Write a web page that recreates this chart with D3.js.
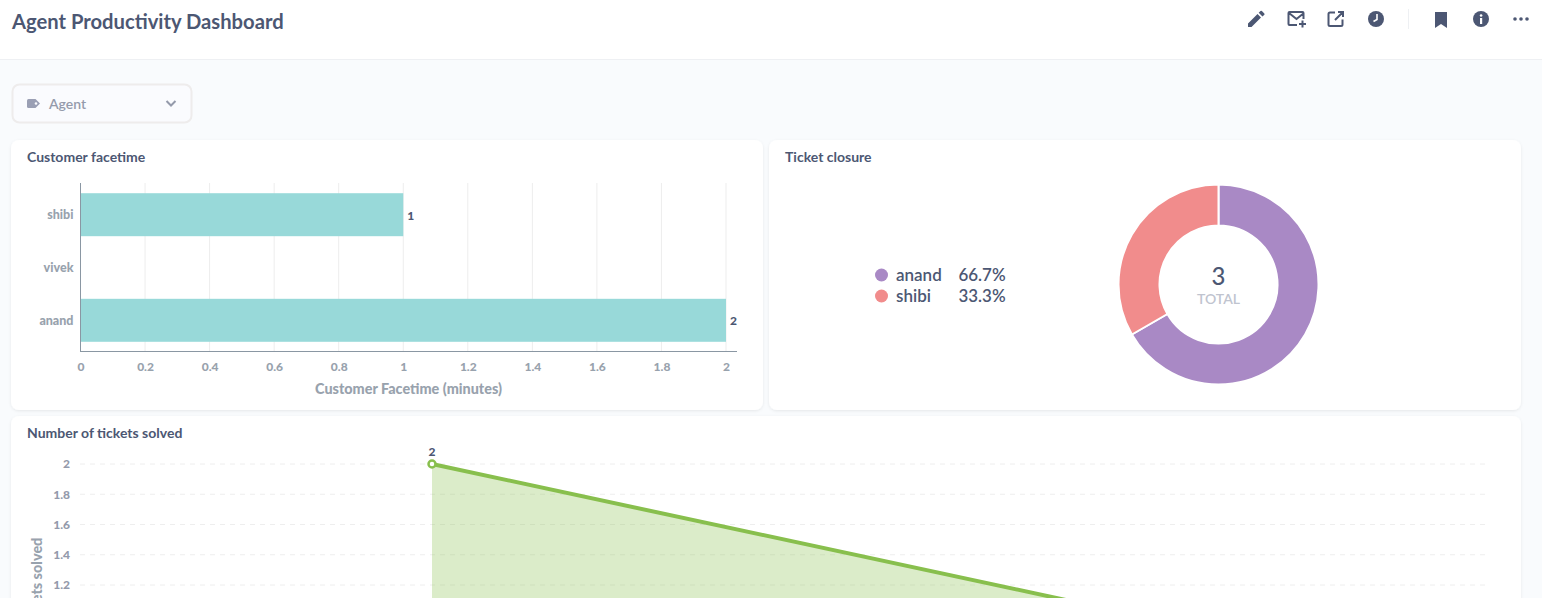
<!DOCTYPE html>
<html><head><meta charset="utf-8">
<script src="https://cdn.jsdelivr.net/npm/d3@7/dist/d3.min.js"></script>
<style>
html,body{margin:0;padding:0;background:#f9fbfd;overflow:hidden;width:1542px;height:598px}
svg{display:block;font-family:Lato,sans-serif}
</style></head><body><svg id="c" width="1542" height="598"></svg>
<script>
const title = "Agent Productivity Dashboard";
const filterLabel = "Agent";
const barAgents = ["shibi","vivek","anand"];
const barValues = [1,null,2];
const barTicks = [0,0.2,0.4,0.6,0.8,1,1.2,1.4,1.6,1.8,2];
const pieAgents = ["anand","shibi"];
const pieValues = [2,1];
const pieColors = ["#a989c5","#f18c8c"];
const lineCategories = ["first","second"];
const lineValues = [2,1];
const lineTicks = [1.2,1.4,1.6,1.8,2];

const svg = d3.select("#c");
const fmt = d3.format("");
const dark="#4c5773", axisTxt="#949aab", tickTxt="#98a2ad";

// top header
svg.append("rect").attr("x",0).attr("y",0).attr("width",1542).attr("height",59).attr("fill","#fff");
svg.append("line").attr("x1",0).attr("x2",1542).attr("y1",59.5).attr("y2",59.5).attr("stroke","#eef0f3");
svg.append("text").attr("x",12).attr("y",29).attr("font-size",20.2).attr("font-weight",700).attr("fill",dark).text(title);

const icons = svg.append("g").attr("fill",dark);
// pencil
icons.append("path").attr("d","M1248 27v-3.500l9.500-9.500 3.500 3.500-9.500 9.500zM1258.700 12.800l1.800-1.800a1 1 0 0 1 1.400 0l2.400 2.400a1 1 0 0 1 0 1.400l-1.800 1.800z");
// mail plus
icons.append("path").attr("fill","none").attr("stroke",dark).attr("stroke-width",2).attr("d","M1297 25h-7.500a1 1 0 0 1-1-1v-11a1 1 0 0 1 1-1h13a1 1 0 0 1 1 1v6M1289 13l7.500 6 7.500-6M1299 24h7M1302.500 20.500v7");
// external
icons.append("path").attr("fill","none").attr("stroke",dark).attr("stroke-width",2).attr("d","M1335 12.500h-5a1.500 1.500 0 0 0-1.500 1.500v10.500a1.500 1.500 0 0 0 1.500 1.500h11a1.500 1.500 0 0 0 1.500-1.500v-5M1335 20l7-7M1338 12h5v5");
// clock
icons.append("circle").attr("cx",1376).attr("cy",19).attr("r",8);
icons.append("path").attr("fill","none").attr("stroke","#fff").attr("stroke-width",1.6).attr("d","M1377 14v5.500l-3.500 2");
svg.append("line").attr("x1",1408.500).attr("x2",1408.500).attr("y1",9).attr("y2",29).attr("stroke","#eef0f3");
// bookmark
icons.append("path").attr("d","M1435 12h12v16l-6-4-6 4z");
// info
icons.append("circle").attr("cx",1481).attr("cy",19).attr("r",8);
icons.append("rect").attr("x",1480).attr("y",18).attr("width",2.200).attr("height",6).attr("fill","#fff");
icons.append("circle").attr("cx",1481.100).attr("cy",15.500).attr("r",1.300).attr("fill","#fff");
// dots
[1515,1521,1527].forEach(x=>icons.append("circle").attr("cx",x).attr("cy",19).attr("r",1.800));

// filter
svg.append("rect").attr("x",12.500).attr("y",84.500).attr("width",179).attr("height",38).attr("rx",7).attr("fill","#fafbfe").attr("stroke","#eeecec").attr("stroke-width",2);
svg.append("path").attr("d","M27 100.500a1.500 1.500 0 0 1 1.500-1.500h7l4.500 4.500-4.500 4.500h-7a1.500 1.500 0 0 1-1.500-1.500z").attr("fill","#9a9fb4");
svg.append("circle").attr("cx",36).attr("cy",103.500).attr("r",1.300).attr("fill","#fafbfe");
svg.append("text").attr("x",49).attr("y",109).attr("font-size",14).attr("font-weight",600).attr("fill","#949aab").text(filterLabel);
svg.append("path").attr("d","M166.500 101l4.500 4.500 4.500-4.500").attr("fill","none").attr("stroke","#949aab").attr("stroke-width",2);

// cards
const cards=[[11,140,752,270],[769,140,752,270],[11,416,1510,260]];
const defs=svg.append("defs");
const f=defs.append("filter").attr("id","sh").attr("x","-5%").attr("y","-5%").attr("width","110%").attr("height","110%");
f.append("feDropShadow").attr("dx",0).attr("dy",1).attr("stdDeviation",1.500).attr("flood-color","#000").attr("flood-opacity",0.08);
cards.forEach(c=>svg.append("rect").attr("x",c[0]).attr("y",c[1]).attr("width",c[2]).attr("height",c[3]).attr("rx",8).attr("fill","#fff").attr("filter","url(#sh)"));
[["Customer facetime",27,162],["Ticket closure",785,162],["Number of tickets solved",27,438]].forEach(t=>
 svg.append("text").attr("x",t[1]).attr("y",t[2]).attr("font-size",14).attr("font-weight",700).attr("fill",dark).text(t[0]));

// bar chart
const bx=d3.scaleLinear().domain([0,2]).range([80.500,726]);
const by=d3.scaleBand().domain(barAgents).range([188.300,346.700]).paddingInner(0.186).paddingOuter(0.093);
const gb=svg.append("g");
gb.selectAll(".g").data(barTicks.slice(1)).join("line").attr("x1",d=>bx(d)).attr("x2",d=>bx(d)).attr("y1",183).attr("y2",351).attr("stroke","#ededed");
gb.selectAll(".bar").data(barAgents.map((a,i)=>({a,v:barValues[i]})).filter(d=>d.v!=null)).join("rect")
 .attr("x",bx(0)).attr("y",d=>by(d.a)).attr("width",d=>bx(d.v)-bx(0)).attr("height",by.bandwidth()).attr("fill","#98d9d9");
gb.selectAll(".lab").data(barAgents.map((a,i)=>({a,v:barValues[i]})).filter(d=>d.v!=null)).join("text")
 .attr("x",d=>bx(d.v)+4).attr("y",d=>by(d.a)+by.bandwidth()/2+5).attr("font-size",12).attr("font-weight",900).attr("fill",dark).text(d=>d.v);
const xAx=d3.axisBottom(bx).tickValues(barTicks).tickSize(0).tickPadding(11).tickFormat(fmt);
const gx=gb.append("g").attr("transform","translate(0,351.500)").call(xAx);
gx.select(".domain").remove();
gx.selectAll("text").attr("font-family","Lato").attr("font-size",12).attr("font-weight",900).attr("fill",tickTxt);
gb.append("line").attr("x1",80).attr("x2",737).attr("y1",351.500).attr("y2",351.500).attr("stroke","#8a97a3");
const yAx=d3.axisLeft(by).tickSize(0).tickPadding(7);
const gy=gb.append("g").attr("transform","translate(80.500,0.500)").call(yAx);
gy.select(".domain").remove();
gy.selectAll("text").attr("font-family","Lato").attr("font-size",12.500).attr("font-weight",900).attr("fill",tickTxt);
gb.append("line").attr("x1",80.500).attr("x2",80.500).attr("y1",183).attr("y2",351.500).attr("stroke","#8a97a3");
gb.append("text").attr("x",408.500).attr("y",394).attr("text-anchor","middle").attr("font-size",14.400).attr("font-weight",900).attr("fill",tickTxt).text("Customer Facetime (minutes)");

// pie
const total=d3.sum(pieValues);
const pie=d3.pie().sort(null).value(d=>d);
const arc=d3.arc().innerRadius(59).outerRadius(100);
const gp=svg.append("g").attr("transform","translate(1218.500,284.500)");
gp.selectAll("path").data(pie(pieValues)).join("path").attr("d",arc)
 .attr("fill",(d,i)=>pieColors[i]).attr("stroke","#fff").attr("stroke-width",2);
gp.append("text").attr("text-anchor","middle").attr("y",0).attr("font-size",24).attr("font-weight",500).attr("fill",dark).text(total);
gp.append("text").attr("text-anchor","middle").attr("y",19).attr("font-size",14).attr("font-weight",600).attr("fill","#c0c4cf").text("TOTAL");
const gl=svg.append("g");
pieAgents.forEach((a,i)=>{
 const y=275+i*21;
 gl.append("circle").attr("cx",881.500).attr("cy",y).attr("r",6.500).attr("fill",pieColors[i]);
 gl.append("text").attr("x",896).attr("y",y+6).attr("font-size",17).attr("font-weight",600).attr("fill",dark).text(a);
 gl.append("text").attr("x",958.500).attr("y",y+6).attr("font-size",16.900).attr("font-weight",600).attr("fill",dark).text(d3.format(".1%")(pieValues[i]/total));
});

// line chart
const lx=d3.scalePoint().domain(lineCategories).range([432,1137]);
const ly=d3.scaleLinear().domain([0,2]).range([766.500,464]);
const gL=svg.append("g");
gL.selectAll(".gl").data(lineTicks).join("line").attr("x1",80).attr("x2",1490).attr("y1",d=>ly(d)).attr("y2",d=>ly(d)).attr("stroke","#eeeeee").attr("stroke-dasharray","5,5");
const pts=lineCategories.map((c,i)=>[c,lineValues[i]]);
gL.append("path").attr("d",d3.area().x(d=>lx(d[0])).y0(ly(0)).y1(d=>ly(d[1]))(pts)).attr("fill","#88bf4d").attr("fill-opacity",0.3);
gL.append("path").attr("d",d3.line().x(d=>lx(d[0])).y(d=>ly(d[1]))(pts)).attr("fill","none").attr("stroke","#88bf4d").attr("stroke-width",4);
gL.selectAll(".pt").data(pts).join("circle").attr("cx",d=>lx(d[0])).attr("cy",d=>ly(d[1])).attr("r",3.500).attr("fill","#fff").attr("stroke","#88bf4d").attr("stroke-width",2.500);
gL.selectAll(".pl").data(pts).join("text").attr("x",d=>lx(d[0])).attr("y",d=>ly(d[1])-8).attr("text-anchor","middle").attr("font-size",12).attr("font-weight",900).attr("fill",dark).text(d=>d[1]);
const gly=gL.append("g").attr("transform","translate(70,0)").call(d3.axisLeft(ly).tickValues(lineTicks).tickSize(0).tickPadding(0).tickFormat(fmt));
gly.select(".domain").remove();
gly.selectAll("text").attr("font-family","Lato").attr("font-size",12).attr("font-weight",900).attr("fill",axisTxt);
gL.append("text").attr("transform","translate(42,618) rotate(-90)").attr("text-anchor","middle").attr("font-size",14.400).attr("font-weight",900).attr("fill",tickTxt).text("Number of tickets solved");
</script></body></html>
